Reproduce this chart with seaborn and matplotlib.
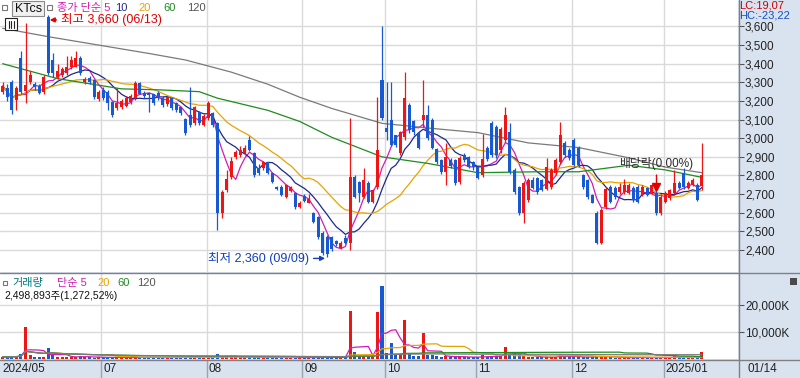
import numpy as np
import pandas as pd
import matplotlib
matplotlib.use("Agg")
import matplotlib.pyplot as plt
import matplotlib.transforms as mtransforms
from matplotlib.patches import Rectangle
from matplotlib.lines import Line2D
import seaborn as sns

# daily candles, index 0 = 2024-05-29 ... 153 = 2025-01-14
opens = [
    3250, 3270, 3300, 3205, 3430, 3255, 3300, 3290, 3280, 3250,
    3650, 3420, 3330, 3340, 3350, 3380, 3385, 3430, 3300, 3325,
    3310, 3210, 3260, 3250, 3195, 3160, 3165, 3175, 3195, 3215,
    3295, 3245, 3245, 3235, 3245, 3215, 3185, 3215, 3190, 3165,
    3105, 3125, 3080, 3140, 3070, 3110, 3135, 3080, 2600, 2720,
    2790, 2900, 2910, 2920, 2990, 2920, 2840, 2840, 2870, 2815,
    2740, 2740, 2685, 2715, 2705, 2630, 2690, 2655, 2600, 2575,
    2490, 2470, 2470, 2450, 2410, 2465, 2440, 2790, 2765, 2685,
    2760, 2660, 2740, 3315, 3055, 3100, 3015, 2920, 3005, 3180,
    3090, 3030, 3100, 3125, 3100, 2940, 2885, 2820, 2885, 2885,
    2765, 2910, 2900, 2875, 2845, 2800, 2950, 3080, 3060, 2935,
    2990, 3035, 2830, 2740, 2600, 2670, 2775, 2785, 2775, 2730,
    2740, 2815, 2870, 2975, 2935, 2990, 2950, 2800, 2775, 2695,
    2600, 2440, 2630, 2740, 2735, 2710, 2710, 2705, 2735, 2740,
    2695, 2735, 2705, 2705, 2600, 2660, 2680, 2705, 2760, 2815,
    2735, 2750, 2750, 2745,
]
highs = [
    3300, 3290, 3310, 3280, 3470, 3620, 3360, 3300, 3290, 3340,
    3660, 3460, 3400, 3380, 3440, 3440, 3470, 3440, 3330, 3335,
    3320, 3260, 3275, 3260, 3200, 3270, 3210, 3225, 3240, 3305,
    3300, 3255, 3250, 3240, 3255, 3225, 3225, 3220, 3195, 3170,
    3110, 3275, 3175, 3145, 3130, 3200, 3140, 3085, 2720, 2830,
    2900, 2935, 2960, 2965, 3010, 2925, 2860, 2880, 2875, 2820,
    2745, 2750, 2755, 2745, 2710, 2665, 2700, 2700, 2605, 2580,
    2500, 2480, 2475, 2455, 2450, 2480, 3110, 2800, 2770, 2840,
    2770, 2730, 3220, 3600, 3300, 3300, 3020, 3040, 3355, 3190,
    3100, 3040, 3310, 3180, 3110, 2950, 2890, 2975, 2895, 2890,
    2905, 2920, 2905, 2880, 2850, 3025, 2960, 3090, 3070, 3060,
    3170, 3080, 2840, 2745, 2770, 2785, 2790, 2790, 2780, 2895,
    2840, 2895, 3085, 2985, 2945, 3000, 2960, 2810, 2780, 2700,
    2610, 2625, 2740, 2750, 2745, 2760, 2780, 2760, 2745, 2750,
    2750, 2740, 2755, 2715, 2700, 2715, 2730, 2830, 2770, 2840,
    2770, 2785, 2760, 2975,
]
lows = [
    3240, 3200, 3130, 3150, 3240, 3190, 3290, 3260, 3240, 3240,
    3340, 3330, 3320, 3330, 3340, 3370, 3380, 3340, 3290, 3290,
    3210, 3200, 3205, 3150, 3115, 3150, 3155, 3170, 3185, 3205,
    3235, 3215, 3140, 3180, 3205, 3170, 3175, 3150, 3140, 3125,
    3020, 3060, 3070, 3070, 3065, 3100, 3060, 2510, 2570, 2710,
    2780, 2890, 2900, 2910, 2930, 2790, 2800, 2830, 2810, 2760,
    2720, 2690, 2680, 2710, 2620, 2625, 2660, 2650, 2545, 2460,
    2375, 2360, 2395, 2420, 2405, 2430, 2400, 2680, 2660, 2680,
    2650, 2650, 2730, 3100, 2990, 2960, 2955, 2910, 2990, 3030,
    3020, 2940, 3060, 2990, 2940, 2860, 2810, 2750, 2840, 2750,
    2755, 2875, 2840, 2830, 2780, 2790, 2880, 2900, 2895, 2920,
    2980, 2810, 2700, 2590, 2545, 2660, 2725, 2700, 2715, 2720,
    2730, 2805, 2860, 2900, 2885, 2850, 2845, 2730, 2675, 2650,
    2430, 2430, 2620, 2650, 2675, 2700, 2700, 2700, 2660, 2650,
    2690, 2690, 2700, 2590, 2590, 2650, 2670, 2700, 2725, 2730,
    2730, 2745, 2665, 2720,
]
closes = [
    3280, 3220, 3150, 3270, 3250, 3285, 3340, 3275, 3245, 3330,
    3350, 3350, 3360, 3370, 3385, 3420, 3430, 3350, 3320, 3300,
    3220, 3250, 3215, 3190, 3125, 3190, 3200, 3215, 3225, 3295,
    3240, 3225, 3230, 3190, 3215, 3180, 3220, 3160, 3150, 3135,
    3030, 3070, 3165, 3080, 3120, 3190, 3070, 2600, 2710, 2780,
    2880, 2925, 2935, 2950, 2935, 2800, 2815, 2870, 2815, 2765,
    2725, 2695, 2750, 2740, 2630, 2655, 2665, 2675, 2550, 2470,
    2385, 2380, 2405, 2430, 2440, 2440, 2790, 2685, 2705, 2775,
    2660, 2720, 2935, 3110, 3035, 2965, 2965, 3035, 3215, 3045,
    3035, 2950, 3125, 3000, 2950, 2870, 2820, 2900, 2850, 2760,
    2895, 2885, 2845, 2845, 2785, 2890, 2890, 2910, 2910, 3050,
    3125, 2820, 2710, 2600, 2760, 2775, 2735, 2710, 2720, 2845,
    2830, 2885, 3015, 2910, 2895, 2855, 2855, 2740, 2685, 2655,
    2440, 2615, 2730, 2660, 2685, 2740, 2750, 2750, 2670, 2660,
    2740, 2695, 2750, 2600, 2685, 2705, 2720, 2760, 2735, 2740,
    2760, 2775, 2670, 2800,
]
# volume in thousand shares
volumes = [
    600, 500, 900, 700, 1800, 11500, 1200, 600, 500, 700,
    4000, 1500, 600, 500, 500, 700, 600, 800, 700, 400,
    300, 500, 400, 500, 500, 400, 300, 300, 300, 600,
    500, 300, 400, 300, 300, 400, 300, 400, 300, 300,
    600, 1100, 500, 400, 300, 400, 400, 1500, 800, 600,
    700, 500, 400, 400, 500, 600, 400, 300, 300, 400,
    300, 400, 400, 300, 500, 300, 300, 300, 400, 500,
    700, 600, 400, 300, 300, 400, 17500, 2300, 900, 1000,
    700, 600, 17100, 26700, 2000, 5700, 1800, 1500, 14400, 1600,
    1000, 900, 9400, 1400, 1200, 800, 600, 900, 500, 700,
    800, 400, 400, 400, 500, 1200, 600, 1000, 900, 800,
    4400, 1200, 1800, 1600, 1000, 700, 500, 400, 400, 600,
    500, 600, 1800, 600, 400, 600, 500, 700, 600, 400,
    900, 900, 600, 400, 300, 300, 300, 300, 400, 300,
    300, 300, 300, 600, 400, 300, 300, 900, 400, 500,
    300, 300, 400, 2499,
]

# long moving averages (their history starts before the window)
ma60_pos = [0, 12, 26, 34, 43, 47, 58, 65, 72, 83, 93, 104, 117, 126, 137, 145, 153]
ma60_val = [3400, 3320, 3265, 3260, 3250, 3215, 3150, 3090, 3005, 2900, 2865, 2815, 2820, 2820, 2855, 2830, 2790]
ma120_pos = [0, 10, 21, 32, 40, 50, 58, 65, 72, 83, 93, 104, 115, 126, 137, 145, 153]
ma120_val = [3590, 3545, 3500, 3455, 3420, 3355, 3290, 3220, 3160, 3080, 3055, 3030, 2975, 2950, 2895, 2845, 2815]

month_pos = [0, 22, 45, 66, 84, 104, 125, 145]
month_labels = ["2024/05", "07", "08", "09", "10", "11", "12", "2025/01"]
hi_date, lo_date = "06/13", "09/09"
ex_div_pos = 143

sns.set_style("white")
plt.rcParams["font.family"] = ["Liberation Sans", "Noto Sans CJK KR"]

RED, BLUE = "#F01414", "#1659D2"
MA_COL = {5: "#D21DB4", 10: "#1C2A8C", 20: "#E9A300", 60: "#1E8C1E", 120: "#7A7A7A"}
PANEL = "#D9E3F0"
GRID = "#DADADA"
W, H = 800, 378

df = pd.DataFrame({"open": opens, "high": highs, "low": lows,
                   "close": closes, "volume": volumes})
df["idx"] = np.arange(len(df))
colors = np.where(df["close"] >= df["open"], RED, BLUE)

fig = plt.figure(figsize=(8, 3.78), dpi=100, facecolor=PANEL)


def fx(px):
    return px / W


def fy(py):
    return 1 - py / H


ax = fig.add_axes([0, fy(272), fx(738), 272 / H], facecolor="white")
axv = fig.add_axes([0, fy(359), fx(738), 86 / H], facecolor="white", sharex=ax)

# candles
body_lo = np.minimum(df["open"], df["close"])
body_h = np.maximum((df["close"] - df["open"]).abs(), 4)
ax.vlines(df["idx"], df["low"], df["high"], colors=colors, lw=0.9, zorder=4)
ax.bar(df["idx"], body_h, bottom=body_lo, width=0.66, color=colors, linewidth=0, zorder=5)

for w in (5, 10, 20):
    ma = df["close"].rolling(w, min_periods=1).mean()
    sns.lineplot(x=df["idx"], y=ma, ax=ax, color=MA_COL[w], lw=0.9, zorder=3)
sns.lineplot(x=ma60_pos, y=ma60_val, ax=ax, color=MA_COL[60], lw=0.9, zorder=3)
sns.lineplot(x=ma120_pos, y=ma120_val, ax=ax, color=MA_COL[120], lw=0.9, zorder=3)

# volume
axv.bar(df["idx"], df["volume"], width=0.66, color=colors, linewidth=0, zorder=3)
for w in (5, 20, 60, 120):
    vma = df["volume"].rolling(w, min_periods=1).mean()
    sns.lineplot(x=df["idx"], y=vma, ax=axv, color=MA_COL[w], lw=0.9, zorder=4)

ax.set_xlim(-0.59, 160.9)
ax.set_ylim(2282, 3742)
axv.set_ylim(-185, 31667)

for a in (ax, axv):
    a.set_xlabel("")
    a.set_ylabel("")
    for s in a.spines.values():
        s.set_visible(False)
    a.yaxis.tick_right()
    a.tick_params(axis="x", bottom=False, labelbottom=False)
    a.tick_params(axis="y", direction="out", length=4, width=0.8, color="#555555",
                  pad=1, labelsize=8.5, labelcolor="#222222")
    a.set_axisbelow(True)
    a.yaxis.grid(True, color=GRID, lw=1)

pticks = list(range(2400, 3700, 100))
ax.set_yticks(pticks)
ax.set_yticklabels([f"{v:,}" for v in pticks])
axv.set_yticks([10000, 20000])
axv.set_yticklabels(["10,000K", "20,000K"])

trans = mtransforms.blended_transform_factory(ax.transData, fig.transFigure)
for p, lab in zip(month_pos, month_labels):
    g = p - 0.4
    if p > 0:
        ax.axvline(g, color=GRID, lw=1, zorder=0)
        axv.axvline(g, color=GRID, lw=1, zorder=0)
        fig.add_artist(Line2D([g, g], [0, fy(360)], transform=trans, color="#9AA3AF", lw=1))
    fig.text(g + 0.4, fy(368.5), lab, transform=trans, ha="left", va="center",
             fontsize=8.5, color="#222222")

# panel borders
line_kw = dict(transform=fig.transFigure, color="#808080", lw=1)
fig.add_artist(Line2D([0, 1], [fy(272.5)] * 2, **line_kw))
fig.add_artist(Line2D([0, 1], [fy(359.5)] * 2, **line_kw))
fig.add_artist(Line2D([fx(738.5)] * 2, [0, 1], **line_kw))

# high / low markers
hi_idx = int(df["high"].idxmax())
hi = int(df["high"].max())
ax.annotate(f"최고 {hi:,} ({hi_date})", xy=(hi_idx + 0.3, hi - 25), xytext=(hi_idx + 2.8, hi - 25),
            color="#E00000", fontsize=9, va="center", ha="left", zorder=6,
            arrowprops=dict(arrowstyle="-|>", color="#E00000", lw=1, mutation_scale=7,
                            shrinkA=1, shrinkB=0))
lo_idx = int(df["low"].idxmin())
lo = int(df["low"].min())
ax.annotate(f"최저 {lo:,} ({lo_date})", xy=(lo_idx - 0.45, lo - 5), xytext=(lo_idx - 4.0, lo - 5),
            color="#1040C0", fontsize=9, va="center", ha="right", zorder=6,
            arrowprops=dict(arrowstyle="-|>", color="#1040C0", lw=1, mutation_scale=7,
                            shrinkA=1, shrinkB=0))

# ex-dividend mark
ax.vlines(ex_div_pos, highs[ex_div_pos] + 30, highs[ex_div_pos] + 95, color="#E00000", lw=1, zorder=6)
ax.plot([ex_div_pos], [highs[ex_div_pos] + 25], marker="v", ms=6, color="#E00000", zorder=6)
ax.text(ex_div_pos - 8.1, 2867, "배당락(0.00%)", fontsize=8.5, color="#2A2A2A",
        va="center", ha="left", zorder=6)


def ftext(px, py, s, **kw):
    fig.text(fx(px), fy(py), s, va="center", ha="left", **kw)


def fbox(x0, y0, x1, y1, **kw):
    fig.add_artist(Rectangle((fx(x0), fy(y1)), fx(x1 - x0), (y1 - y0) / H,
                             transform=fig.transFigure, **kw))


# price legend
fbox(2, 5, 7, 10, facecolor="white", edgecolor="#777777", lw=0.8)
fbox(12, 1, 44, 16, facecolor="#F0F0F0", edgecolor="#8A8A8A", lw=0.8)
ftext(15, 8.5, "KTcs", fontsize=9, color="#111111")
fbox(47, 5, 52, 10, facecolor="white", edgecolor="#777777", lw=0.8)
ftext(57, 8, "종가 단순 5", fontsize=8, color=MA_COL[5])
ftext(115, 8, "10", fontsize=8, color=MA_COL[10])
ftext(138, 8, "20", fontsize=8, color=MA_COL[20])
ftext(163, 8, "60", fontsize=8, color=MA_COL[60])
ftext(187, 8, "120", fontsize=8, color="#555555")
fbox(5, 18, 17, 30, facecolor="white", edgecolor="#222222", lw=0.8)
for xx in (8.5, 11, 13.5):
    fig.add_artist(Line2D([fx(xx)] * 2, [fy(28), fy(21)], transform=fig.transFigure,
                          color="#222222", lw=0.8))

# volume legend
fbox(3, 281, 7, 285, facecolor="white", edgecolor="#777777", lw=0.8)
ftext(12, 283, "거래량", fontsize=8, color="#007A7A")
ftext(57, 283, "단순 5", fontsize=8, color=MA_COL[5])
ftext(97, 283, "20", fontsize=8, color=MA_COL[20])
ftext(117, 283, "60", fontsize=8, color=MA_COL[60])
ftext(137, 283, "120", fontsize=8, color="#555555")
ftext(4, 296, "2,498,893주(1,272,52%)", fontsize=7.5, color="#111111")
fbox(790, 278, 797, 285, facecolor="#4A4A4A", edgecolor="none")

# right panel texts
ftext(739, 5.5, "LC:19,07", fontsize=8, color="#D00000")
ftext(739, 16, "HC:-23,22", fontsize=8, color="#1050C0")
ftext(748, 368.5, "01/14", fontsize=8.5, color="#222222")

fig.savefig("out.png", dpi=100, facecolor=PANEL)
